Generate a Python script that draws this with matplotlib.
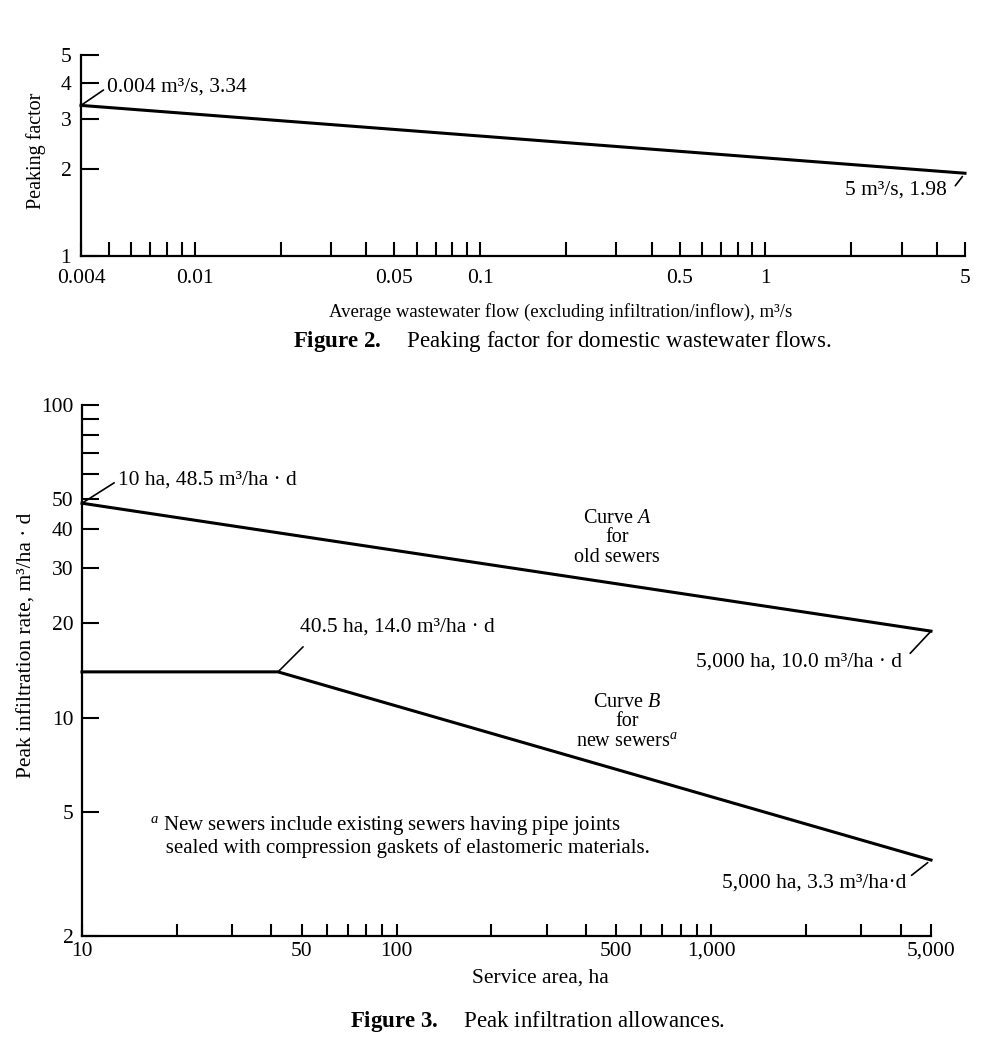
import matplotlib.pyplot as plt
from matplotlib.ticker import FixedLocator, FixedFormatter

plt.rcParams['font.family'] = ['Liberation Serif', 'DejaVu Serif']
plt.rcParams['mathtext.fontset'] = 'custom'
plt.rcParams['mathtext.rm'] = 'Liberation Serif'
plt.rcParams['mathtext.it'] = 'Liberation Serif:italic'
plt.rcParams['mathtext.bf'] = 'Liberation Serif:bold'

# Figure 2 - peaking factor
flow = [0.004, 5]
peaking = [3.34, 1.94]
flow_ticks = [0.004, 0.005, 0.006, 0.007, 0.008, 0.009, 0.01,
              0.02, 0.03, 0.04, 0.05, 0.06, 0.07, 0.08, 0.09, 0.1,
              0.2, 0.3, 0.4, 0.5, 0.6, 0.7, 0.8, 0.9, 1, 2, 3, 4, 5]
flow_labels = {0.004: "0.004", 0.01: "0.01", 0.05: "0.05", 0.1: "0.1",
               0.5: "0.5", 1: "1", 5: "5"}
pf_ticks = [1, 2, 3, 4, 5]

# Figure 3 - infiltration allowances
area_a = [10, 5000]
rate_a = [48.5, 18.9]
area_b = [10, 42, 5000]
rate_b = [14.0, 14.0, 3.5]
area_ticks = [10, 20, 30, 40, 50, 60, 70, 80, 90, 100,
              200, 300, 400, 500, 600, 700, 800, 900, 1000,
              2000, 3000, 4000, 5000]
area_labels = {10: "10", 50: "50", 100: "100", 500: "500",
               1000: "1,000", 5000: "5,000"}
rate_ticks = [2, 5, 10, 20, 30, 40, 50, 60, 70, 80, 90, 100]
rate_labels = {2: "2", 5: "5", 10: "10", 20: "20", 30: "30",
               40: "40", 50: "50", 100: "100"}

W, H = 991, 1060
FS = 15.5


def px(x, y):
    return x / W, 1 - y / H


def style_axes(ax, xticks, xlabels, yticks, ylabels, xlen, ylen, xpad, ypad):
    ax.set_xscale("log")
    ax.set_yscale("log")
    ax.spines["top"].set_visible(False)
    ax.spines["right"].set_visible(False)
    for s in ("left", "bottom"):
        ax.spines[s].set_linewidth(1.6)
    ax.xaxis.set_major_locator(FixedLocator(xticks))
    ax.xaxis.set_major_formatter(FixedFormatter([xlabels.get(t, "") for t in xticks]))
    ax.yaxis.set_major_locator(FixedLocator(yticks))
    ax.yaxis.set_major_formatter(FixedFormatter([ylabels.get(t, "") for t in yticks]))
    ax.xaxis.set_minor_locator(FixedLocator([]))
    ax.yaxis.set_minor_locator(FixedLocator([]))
    ax.tick_params(axis="x", direction="in", length=xlen, width=1.5,
                   pad=xpad, labelsize=FS)
    ax.tick_params(axis="y", direction="in", length=ylen, width=1.5,
                   pad=ypad, labelsize=FS)


fig = plt.figure(figsize=(W / 100, H / 100), dpi=100)

# ---- Figure 2
ax1 = fig.add_axes([81 / W, 1 - 256 / H, 884 / W, 201 / H])
ax1.plot(flow, peaking, color="black", lw=2.2, clip_on=False)
ax1.set_xlim(0.004, 5)
ax1.set_ylim(1, 5)
style_axes(ax1, flow_ticks, flow_labels, pf_ticks, {t: str(t) for t in pf_ticks},
           10, 13, 9.5, 7)

ax1.annotate("0.004 m³/s, 3.34", xy=(flow[0], peaking[0]), xytext=(19, 13),
             textcoords="offset points", ha="left", va="center", fontsize=FS,
             arrowprops=dict(arrowstyle="-", lw=1.2, relpos=(0, 0.5),
                             shrinkA=1, shrinkB=0))
ax1.annotate("5 m³/s, 1.98", xy=(flow[1], peaking[1]), xytext=(-13, -12),
             textcoords="offset points", ha="right", va="center", fontsize=FS)
ax1.annotate("", xy=(flow[1], peaking[1]), xytext=(-7, -9),
             textcoords="offset points",
             arrowprops=dict(arrowstyle="-", lw=1.2, shrinkA=0, shrinkB=3))

fig.text(*px(36, 151), "Peaking factor", rotation=90, ha="center", va="center",
         fontsize=14.5)
fig.text(*px(561, 312), "Average wastewater flow (excluding infiltration/inflow), m³/s",
         ha="center", va="center", fontsize=13.5)
fig.text(*px(562, 341), "$\\mathbf{Figure\\ 2.}$    Peaking factor for domestic wastewater flows.",
         ha="center", va="center", fontsize=16.5)

# ---- Figure 3
ax2 = fig.add_axes([82 / W, 1 - 936 / H, 849 / W, 531 / H])
ax2.plot(area_a, rate_a, color="black", lw=2.2, clip_on=False)
ax2.plot(area_b, rate_b, color="black", lw=2.2, clip_on=False)
ax2.set_xlim(10, 5000)
ax2.set_ylim(2, 100)
style_axes(ax2, area_ticks, area_labels, rate_ticks, rate_labels, 9, 12, 4, 6)

ax2.annotate("10 ha, 48.5 m³/ha · d", xy=(area_a[0], rate_a[0]), xytext=(26, 16.5),
             textcoords="offset points", ha="left", va="center", fontsize=FS,
             arrowprops=dict(arrowstyle="-", lw=1.2, relpos=(0, 0.5),
                             shrinkA=1, shrinkB=0))
ax2.annotate("5,000 ha, 10.0 m³/ha · d", xy=(area_a[1], rate_a[1]), xytext=(-21, -22),
             textcoords="offset points", ha="right", va="center", fontsize=FS)
ax2.annotate("", xy=(area_a[1], rate_a[1]), xytext=(-15, -16),
             textcoords="offset points",
             arrowprops=dict(arrowstyle="-", lw=1.2, shrinkA=0, shrinkB=1))
ax2.annotate("40.5 ha, 14.0 m³/ha · d", xy=(area_b[1], rate_b[1]), xytext=(16, 32),
             textcoords="offset points", ha="left", va="center", fontsize=FS)
ax2.annotate("", xy=(area_b[1], rate_b[1]), xytext=(18, 18),
             textcoords="offset points",
             arrowprops=dict(arrowstyle="-", lw=1.2, shrinkA=0, shrinkB=1))
ax2.annotate("5,000 ha, 3.3 m³/ha·d", xy=(area_b[2], rate_b[2]), xytext=(-18, -16.5),
             textcoords="offset points", ha="right", va="center", fontsize=FS)
ax2.annotate("", xy=(area_b[2], rate_b[2]), xytext=(-14, -11),
             textcoords="offset points",
             arrowprops=dict(arrowstyle="-", lw=1.2, shrinkA=0, shrinkB=3))

fig.text(*px(617, 538), "Curve $\\mathit{A}$\nfor\nold sewers", ha="center",
         va="center", fontsize=14.5, linespacing=1.05)
fig.text(*px(627, 722), "Curve $\\mathit{B}$\nfor\nnew sewers$^{\\mathit{a}}$", ha="center",
         va="center", fontsize=14.5, linespacing=1.05)
fig.text(*px(150, 836),
         "$^{\\mathit{a}}$ New sewers include existing sewers having pipe joints\n"
         "   sealed with compression gaskets of elastomeric materials.",
         ha="left", va="center", fontsize=15, linespacing=1.1)

fig.text(*px(27, 645), "Peak infiltration rate, m³/ha · d", rotation=90,
         ha="center", va="center", fontsize=FS)
fig.text(*px(540, 978), "Service area, ha", ha="center", va="center", fontsize=FS)
fig.text(*px(538, 1022), "$\\mathbf{Figure\\ 3.}$    Peak infiltration allowances.",
         ha="center", va="center", fontsize=16.5)

fig.savefig("out.png", dpi=100)
